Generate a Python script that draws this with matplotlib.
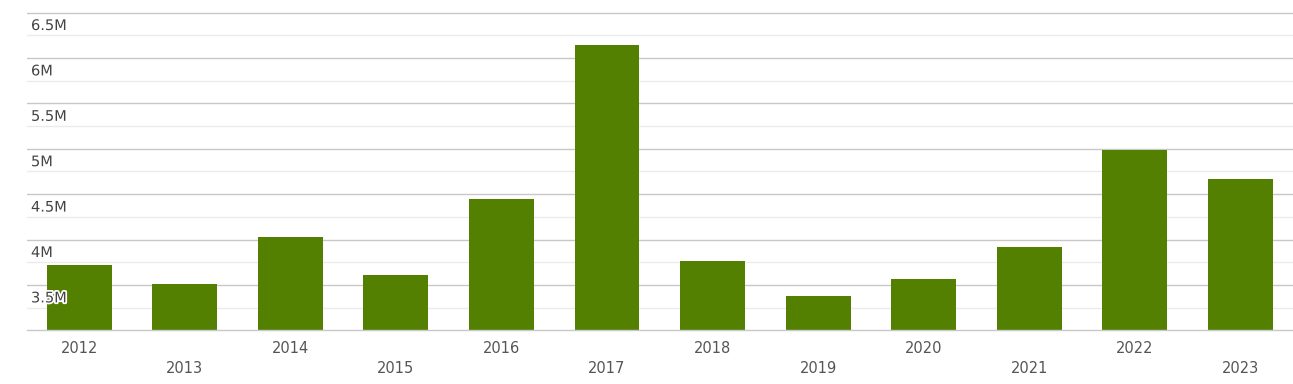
import numpy as np
import matplotlib
matplotlib.use("Agg")
import matplotlib.pyplot as plt
import matplotlib.patheffects as pe

# values in millions
years = ["2012", "2013", "2014", "2015", "2016", "2017",
         "2018", "2019", "2020", "2021", "2022", "2023"]
values = [3.716, 3.507, 4.024, 3.606, 4.446, 6.142,
          3.763, 3.378, 3.565, 3.917, 4.986, 4.666]
y_ticks = [3.5, 4.0, 4.5, 5.0, 5.5, 6.0, 6.5]
y_labels = ["3.5M", "4M", "4.5M", "5M", "5.5M", "6M", "6.5M"]

W, H = 1293, 384
fig = plt.figure(figsize=(W / 100, H / 100), dpi=100)
ax = fig.add_axes([26.5 / W, (H - 330.3) / H, 1 - 26.5 / W, 330.3 / H])

x = np.arange(len(years))
ymin = 3.0
ymax = ymin + 330.3 / 90.8
ax.bar(x, np.array(values) - ymin, bottom=ymin, width=0.615, color="#538000", zorder=2)

ax.set_xlim(-0.5, len(years) - 0.5)
ax.set_ylim(ymin, ymax)

# gridlines: minor every 0.25M, major every 0.5M
for t in np.arange(3.25, 6.6, 0.5):
    ax.axhline(t, color="#ebebeb", lw=1, zorder=1)
for t in y_ticks:
    ax.axhline(t, color="#c8c8c8", lw=1, zorder=1)
ax.axhline(ymin, color="#c8c8c8", lw=1, zorder=3, clip_on=False)

for s in ax.spines.values():
    s.set_visible(False)
ax.set_xticks([])
ax.set_yticks([])

# y labels inside the plot, just below each gridline
for t, lab in zip(y_ticks, y_labels):
    txt = ax.annotate(lab, xy=(0, t), xycoords=("axes fraction", "data"),
                      xytext=(4.5, -13), textcoords="offset pixels",
                      fontsize=10.5, color="#444444", va="center", ha="left", zorder=5)
    txt.set_path_effects([pe.withStroke(linewidth=2.5, foreground="white")])

# staggered x labels
for i, yr in enumerate(years):
    yoff = -18 if i % 2 == 0 else -38
    ax.annotate(yr, xy=(i, 0), xycoords=("data", "axes fraction"),
                xytext=(0, yoff), textcoords="offset pixels",
                fontsize=10.5, color="#555555", ha="center", va="center")

fig.savefig("out.png", dpi=100)
